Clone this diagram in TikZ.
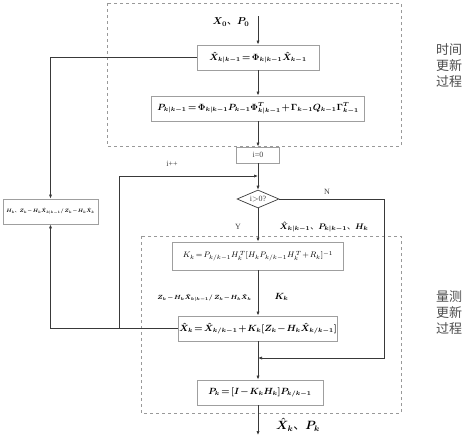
\documentclass[tikz,border=0pt]{standalone}
\usepackage{amsmath}
\usepackage{graphicx}
\usepackage[no-math]{fontspec}
\setmainfont{Liberation Serif}
\newfontfamily\cjkfont{Noto Sans CJK SC}
\usetikzlibrary{arrows.meta,shapes.geometric}

\newcommand{\dun}{\mbox{\cjkfont 、}}
\newcommand{\tightmath}{\thickmuskip=2.5mu\medmuskip=1.5mu}

\tikzset{
    procbox/.style={draw=gray!75, line width=0.9pt, fill=white, inner sep=1pt, minimum height=25pt},
    flowline/.style={draw=gray!45!black, line width=0.7pt},
    flowarrow/.style={flowline, -{Latex[length=4pt,width=3.2pt]}},
    stagebox/.style={draw=gray!80, dashed, line width=0.6pt},
    stagetext/.style={font=\cjkfont\fontsize{13}{16}\selectfont, align=left, text=gray!60!black},
    plaintext/.style={font=\footnotesize, text=gray!50!black},
    boldformula/.style={font=\small\boldmath\tightmath}
}

\begin{document}
\begin{tikzpicture}[x=1pt,y=-1pt]

    \useasboundingbox (0,0) rectangle (474,445);

    % Time update stage
    \draw[stagebox] (107,3) rectangle (401,146);
    \node[stagetext] (tlabel) at (449,66) {时间\\更新\\过程};

    \coordinate (start) at (258,16);
    \node[font=\boldmath] (initval) at (231,22) {$X_0$\dun$P_0$};
    \node[procbox, boldformula, minimum width=122pt] (xpred) at (258,57.5)
        {$\hat{X}_{k|k-1}=\Phi_{k|k-1}\hat{X}_{k-1}$};
    \node[procbox, boldformula, minimum width=213pt] (ppred) at (258,108.5)
        {$P_{k|k-1}=\Phi_{k|k-1}P_{k-1}\Phi^{T}_{k|k-1}+\Gamma_{k-1}Q_{k-1}\Gamma^{T}_{k-1}$};

    % Counter and decision
    \node[procbox, minimum width=43pt, minimum height=16pt, plaintext] (init0) at (258,155) {i=0};
    \node[draw=gray!45!black, line width=0.7pt, shape=diamond, aspect=2.3, inner sep=0.5pt,
        minimum width=42pt, minimum height=18pt, plaintext] (check) at (258,199) {i$>$0?};

    % Measurement update stage
    \draw[stagebox] (141,236) rectangle (401,413);
    \node[stagetext] (mlabel) at (449,313) {量测\\更新\\过程};

    \node[procbox, minimum width=171pt, minimum height=28pt, font=\fontsize{8.5}{10}\selectfont\tightmath] (gain) at (258,256)
        {$K_k=P_{k/k-1}H_k^{\,T}[H_kP_{k/k-1}H_k^{\,T}+R_k]^{-1}$};
    \node[procbox, boldformula, minimum width=145pt] (xupd) at (258,328.5)
        {$\hat{X}_k=\hat{X}_{k/k-1}+K_k[Z_k-H_k\hat{X}_{k/k-1}]$};
    \node[procbox, boldformula, minimum width=126pt] (pupd) at (260,392.5)
        {$P_k=[I-K_kH_k]P_{k/k-1}$};

    % Innovation box
    \node[procbox, minimum width=95pt, font=\scriptsize\boldmath\tightmath] (innov) at (50.5,211.5)
        {\resizebox{88pt}{!}{$H_k$\dun$Z_k-H_k\hat{X}_{k|k-1}/\,Z_k-H_k\hat{X}_k$}};

    % labels
    \node[plaintext] (ipp) at (172,164) {i++};
    \node[plaintext] (yes) at (238,227) {Y};
    \node[plaintext] (no) at (327,192) {N};
    \node[font=\footnotesize\boldmath\tightmath] (prior) at (324,227)
        {$\hat{X}_{k|k-1}$\dun$P_{k|k-1}$\dun$H_k$};
    \node[font=\scriptsize\boldmath\tightmath, anchor=east] (resid) at (255,298)
        {\resizebox{94pt}{!}{$Z_k-H_k\hat{X}_{k|k-1}/\,Z_k-H_k\hat{X}_k$}};
    \node[font=\small\boldmath, anchor=west] (kgain) at (271,297) {$K_k$};
    \node[font=\large\boldmath] (outval) at (298,425) {$\hat{X}_k$\dun$P_k$};

    % connectors
    \coordinate (ippfoot) at (119,328.5);
    \coordinate (ippjoin) at (258,176);
    \coordinate (ncorner) at (384,358);
    \coordinate (nmerge) at (258,358);
    \coordinate (outend) at (258,435);

    \draw[flowarrow] (start) -- (xpred);
    \draw[flowarrow] (xpred) -- (ppred);
    \draw[flowarrow] (ppred) -- (init0);
    \draw[flowarrow] (init0) -- (check);
    \draw[flowarrow] (check) -- (gain);
    \draw[flowarrow] (gain) -- (xupd);
    \draw[flowarrow] (xupd.south) -- (xupd.south |- pupd.north);
    \draw[flowarrow] (pupd.south -| xupd.south) -- (outend);
    \draw[flowarrow] (xpred.west) -| (innov.north);
    \draw[flowarrow] (xupd.west) -| (innov.south);
    \draw[flowarrow] (ippfoot) |- (ippjoin);
    \draw[flowarrow] (check.east) -| (ncorner) -- (nmerge);
\end{tikzpicture}
\end{document}
